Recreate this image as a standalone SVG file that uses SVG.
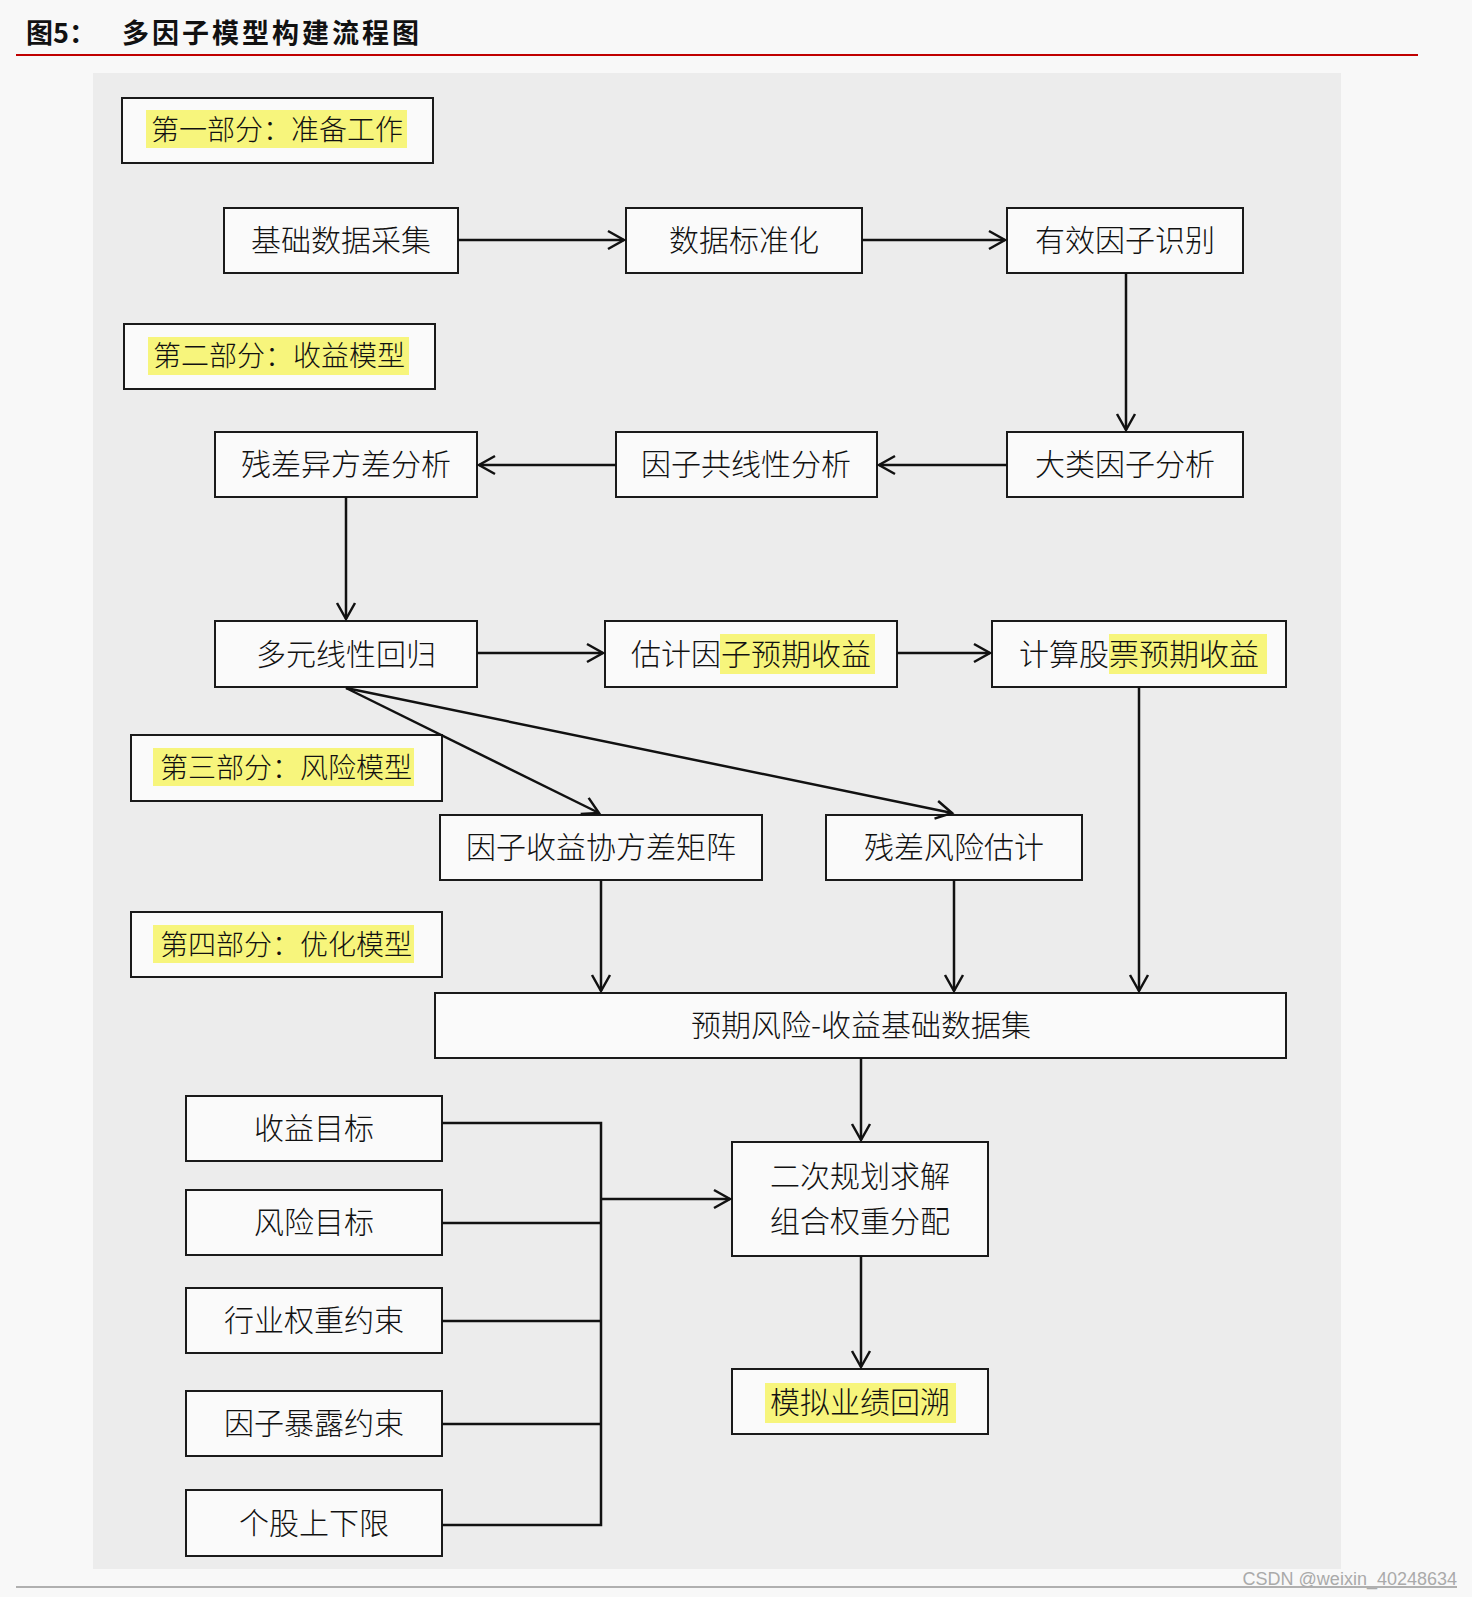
<svg xmlns="http://www.w3.org/2000/svg" width="1472" height="1597" viewBox="0 0 1472 1597">
<style>
.b{fill:#fafafa;stroke:#1a1a1a;stroke-width:2}
.t{font-family:"Noto Sans CJK SC",sans-serif;font-size:30px;font-weight:300;fill:#111;text-anchor:middle}
.p{font-family:"Noto Sans CJK SC",sans-serif;font-size:28px;font-weight:300;fill:#111;text-anchor:middle}
.h{fill:#f7f57c}
.c{fill:none;stroke:#111;stroke-width:2.5}
</style>
<defs>
<marker id="a" markerWidth="24" markerHeight="24" refX="20" refY="12" orient="auto" markerUnits="userSpaceOnUse">
<path d="M4,3 L20,12 L4,21" fill="none" stroke="#111" stroke-width="2.5"/>
</marker>
</defs>
<rect width="1472" height="1597" fill="#f8f8f8"/>
<text x="26" y="43" font-family="Noto Sans CJK SC,sans-serif" font-size="27" font-weight="700" fill="#111">图5：</text>
<text x="122" y="43" font-family="Noto Sans CJK SC,sans-serif" font-size="27" font-weight="700" fill="#111" letter-spacing="3">多因子模型构建流程图</text>
<line x1="16" y1="55" x2="1418" y2="55" stroke="#c00000" stroke-width="2"/>
<rect x="93" y="73" width="1248" height="1496" fill="#ececec"/>
<line x1="16" y1="1587" x2="1457" y2="1587" stroke="#999" stroke-width="1.5"/>
<text x="1457" y="1585" font-family="Liberation Sans,sans-serif" font-size="18" fill="#aaa" text-anchor="end">CSDN @weixin_40248634</text>

<g id="part1"><rect class="b" x="122" y="98" width="311" height="65"/><rect class="h" x="146" y="110" width="261" height="38"/><text class="p" x="277" y="140">第一部分：准备工作</text></g>
<g id="part2"><rect class="b" x="124" y="324" width="311" height="65"/><rect class="h" x="148" y="337" width="261" height="38"/><text class="p" x="279" y="366">第二部分：收益模型</text></g>
<g id="part3"><rect class="b" x="131" y="735" width="311" height="66"/><rect class="h" x="153" y="748" width="261" height="38"/><text class="p" x="286" y="778">第三部分：风险模型</text></g>
<g id="part4"><rect class="b" x="131" y="912" width="311" height="65"/><rect class="h" x="153" y="925" width="261" height="38"/><text class="p" x="286" y="955">第四部分：优化模型</text></g>

<g id="n1"><rect class="b" x="224" y="208" width="234" height="65"/><text class="t" x="341" y="251">基础数据采集</text></g>
<g id="n2"><rect class="b" x="626" y="208" width="236" height="65"/><text class="t" x="744" y="251">数据标准化</text></g>
<g id="n3"><rect class="b" x="1007" y="208" width="236" height="65"/><text class="t" x="1125" y="251">有效因子识别</text></g>
<g id="n4"><rect class="b" x="1007" y="432" width="236" height="65"/><text class="t" x="1125" y="475">大类因子分析</text></g>
<g id="n5"><rect class="b" x="616" y="432" width="261" height="65"/><text class="t" x="746" y="475">因子共线性分析</text></g>
<g id="n6"><rect class="b" x="215" y="432" width="262" height="65"/><text class="t" x="346" y="475">残差异方差分析</text></g>
<g id="n7"><rect class="b" x="215" y="621" width="262" height="66"/><text class="t" x="346" y="665">多元线性回归</text></g>
<g id="n8"><rect class="b" x="605" y="621" width="292" height="66"/><rect class="h" x="720" y="634" width="155" height="40"/><text class="t" x="751" y="665">估计因子预期收益</text></g>
<g id="n9"><rect class="b" x="992" y="621" width="294" height="66"/><rect class="h" x="1109" y="634" width="158" height="40"/><text class="t" x="1139" y="665">计算股票预期收益</text></g>
<g id="n10"><rect class="b" x="440" y="815" width="322" height="65"/><text class="t" x="601" y="858">因子收益协方差矩阵</text></g>
<g id="n11"><rect class="b" x="826" y="815" width="256" height="65"/><text class="t" x="954" y="858">残差风险估计</text></g>
<g id="n12"><rect class="b" x="435" y="993" width="851" height="65"/><text class="t" x="861" y="1036">预期风险-收益基础数据集</text></g>
<g id="n13"><rect class="b" x="186" y="1096" width="256" height="65"/><text class="t" x="314" y="1139">收益目标</text></g>
<g id="n14"><rect class="b" x="186" y="1190" width="256" height="65"/><text class="t" x="314" y="1233">风险目标</text></g>
<g id="n15"><rect class="b" x="186" y="1288" width="256" height="65"/><text class="t" x="314" y="1331">行业权重约束</text></g>
<g id="n16"><rect class="b" x="186" y="1391" width="256" height="65"/><text class="t" x="314" y="1434">因子暴露约束</text></g>
<g id="n17"><rect class="b" x="186" y="1490" width="256" height="66"/><text class="t" x="314" y="1534">个股上下限</text></g>
<g id="n18"><rect class="b" x="732" y="1142" width="256" height="114"/><text class="t" x="860" y="1187">二次规划求解</text><text class="t" x="860" y="1232">组合权重分配</text></g>
<g id="n19"><rect class="b" x="732" y="1369" width="256" height="65"/><rect class="h" x="765" y="1383" width="191" height="40"/><text class="t" x="860" y="1413">模拟业绩回溯</text></g>

<g id="connectors">
<line class="c" x1="458" y1="240" x2="624" y2="240" marker-end="url(#a)"/>
<line class="c" x1="862" y1="240" x2="1005" y2="240" marker-end="url(#a)"/>
<line class="c" x1="1126" y1="273" x2="1126" y2="430" marker-end="url(#a)"/>
<line class="c" x1="1007" y1="465" x2="879" y2="465" marker-end="url(#a)"/>
<line class="c" x1="616" y1="465" x2="479" y2="465" marker-end="url(#a)"/>
<line class="c" x1="346" y1="497" x2="346" y2="619" marker-end="url(#a)"/>
<line class="c" x1="477" y1="653" x2="603" y2="653" marker-end="url(#a)"/>
<line class="c" x1="897" y1="653" x2="990" y2="653" marker-end="url(#a)"/>
<line class="c" x1="346" y1="688" x2="599" y2="813" marker-end="url(#a)"/>
<line class="c" x1="346" y1="688" x2="952" y2="813" marker-end="url(#a)"/>
<line class="c" x1="601" y1="880" x2="601" y2="991" marker-end="url(#a)"/>
<line class="c" x1="954" y1="880" x2="954" y2="991" marker-end="url(#a)"/>
<line class="c" x1="1139" y1="687" x2="1139" y2="991" marker-end="url(#a)"/>
<line class="c" x1="861" y1="1058" x2="861" y2="1140" marker-end="url(#a)"/>
<line class="c" x1="861" y1="1256" x2="861" y2="1367" marker-end="url(#a)"/>
<polyline class="c" points="442,1123 601,1123 601,1525 442,1525"/>
<line class="c" x1="442" y1="1223" x2="601" y2="1223"/>
<line class="c" x1="442" y1="1321" x2="601" y2="1321"/>
<line class="c" x1="442" y1="1424" x2="601" y2="1424"/>
<line class="c" x1="601" y1="1199" x2="730" y2="1199" marker-end="url(#a)"/>
</g>
</svg>
